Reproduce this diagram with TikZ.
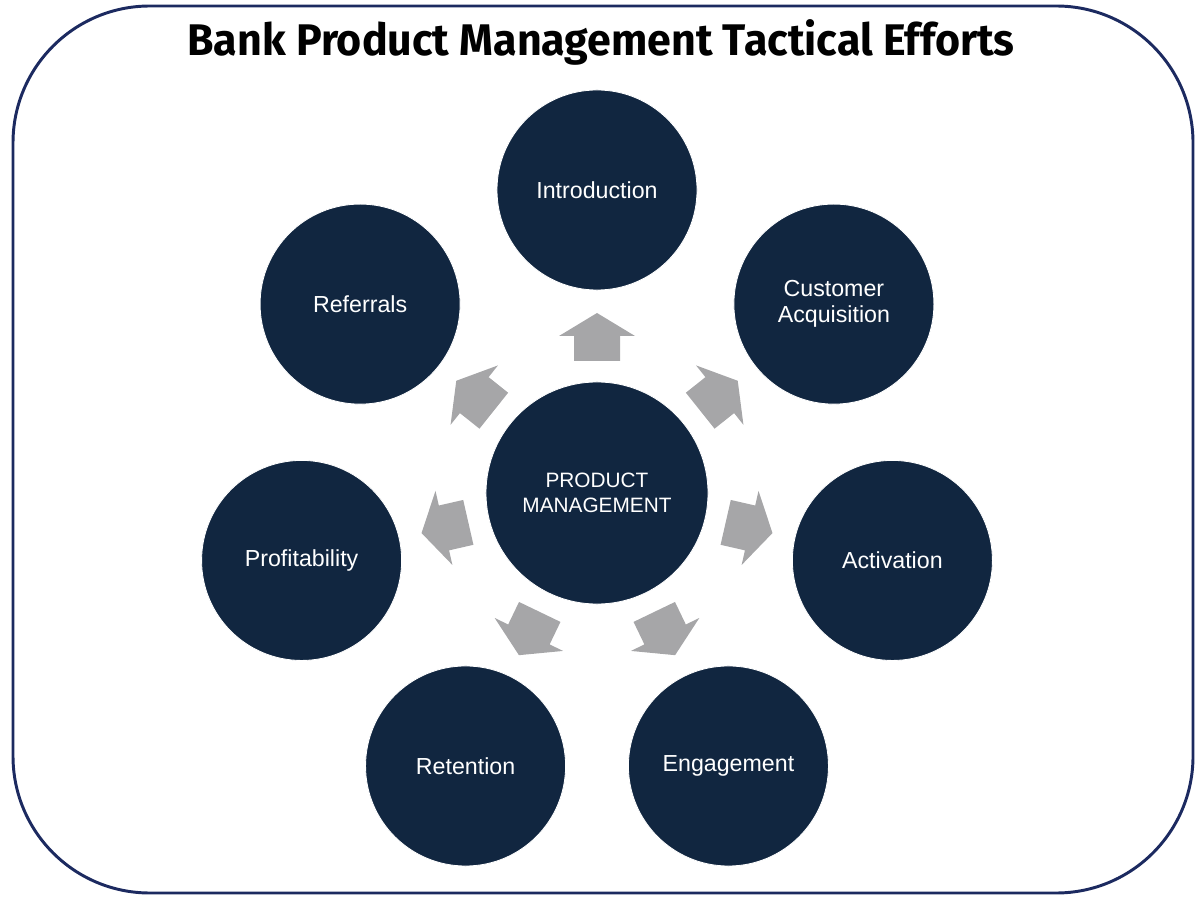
\documentclass[tikz,border=0pt]{standalone}
\usepackage{fontspec}
\setmainfont{Liberation Sans}
\newfontfamily\titlefont[FakeStretch=0.97]{Fira Sans}
\definecolor{cnavy}{RGB}{17,38,64}
\definecolor{cframe}{RGB}{28,42,96}
\definecolor{cgrey}{RGB}{166,166,168}
\tikzset{bankfig/.style={x=0.025cm,y=0.025cm},
  effort/.style={circle,fill=cnavy,draw=white,line width=0.6pt,minimum size=5cm,inner sep=0pt,
    text=white,align=center,font=\fontsize{16.5}{18.5}\selectfont},
  hub/.style={effort,minimum size=5.55cm,font=\fontsize{14.8}{17.5}\selectfont}}

\begin{document}
\begin{tikzpicture}[bankfig]
    \useasboundingbox (0,0) rectangle (1200,902);
    \draw[cframe,line width=2.1pt,rounded corners=3.42cm] (13,9) rectangle (1193,896);
    \node[anchor=base,font=\titlefont\bfseries\fontsize{31.5}{35}\selectfont] (title) at (601,846)
      {Bank Product Management Tactical Efforts};
    \node[hub] (pm) at (597,409) {PRODUCT\\MANAGEMENT};
    % block arrows, pointing out from the hub
    \foreach \a in {90,38.57,-12.86,-64.29,-115.71,-167.14,141.43}
      \fill[cgrey,shift={(pm.center)},rotate=\a]
        (132,-23) -- (157,-23) -- (157,-38) -- (180,0) -- (157,38) -- (157,23) -- (132,23) -- cycle;
    \foreach \a/\nm/\txt in {90/intro/Introduction,38.57/acq/Customer\\Acquisition,
        -12.86/act/Activation,-64.29/eng/Engagement,-115.71/ret/Retention,
        -167.14/prof/Profitability,141.43/ref/Referrals}
      \path (pm.center) ++(\a:303) node[effort] (\nm) {\txt};
\end{tikzpicture}
\end{document}
